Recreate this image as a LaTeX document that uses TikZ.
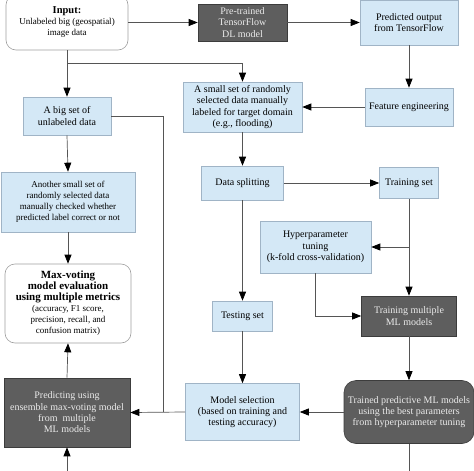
\documentclass[tikz,border=0pt]{standalone}
\usepackage{fontspec}
\setmainfont{Liberation Serif}
\usetikzlibrary{arrows.meta}

\definecolor{boxblue}{RGB}{212,232,246}
\definecolor{blueline}{RGB}{160,180,198}
\definecolor{boxdark}{RGB}{94,94,94}
\definecolor{darkline}{RGB}{60,60,60}
\definecolor{wireline}{RGB}{85,85,85}

\newcommand{\headline}[1]{{\fontsize{11}{13}\selectfont\bfseries #1}}

\tikzset{
  box/.style={draw, align=center, inner sep=0pt, font=\fontsize{10}{11.3}\selectfont},
  small/.style={font=\fontsize{9}{11}\selectfont},
  bluebox/.style={box, fill=boxblue, draw=blueline, line width=0.6pt},
  darkbox/.style={box, fill=boxdark, draw=darkline, text=white!92!black, line width=0.6pt},
  roundbox/.style={box, fill=white, draw=gray!75, rounded corners=10pt, line width=0.6pt},
  darkround/.style={darkbox, rounded corners=12pt},
  arr/.style={-{Triangle[length=9pt,width=7pt,color=black]}, draw=wireline, line width=0.7pt},
  wire/.style={draw=wireline, line width=0.7pt}
}

\begin{document}
\begin{tikzpicture}[x=1pt,y=-1pt]
\useasboundingbox (0,0) rectangle (474,471);
% left column
\node[roundbox, small, minimum width=122pt, minimum height=55pt] (input) at (67,22.5)
  {{\fontsize{10.5}{12}\selectfont\bfseries Input:}\\Unlabeled big (geospatial)\\image data};
\node[bluebox, minimum width=88pt, minimum height=38pt] (bigset) at (67,116)
  {A big set of\\unlabeled data};
\node[bluebox, small, minimum width=134pt, minimum height=60pt] (another) at (68,202)
  {Another small set of\\randomly selected data\\manually checked whether\\predicted label correct or not};
\node[roundbox, small, minimum width=126pt, minimum height=79pt] (maxvote) at (68,303.5)
  {\headline{Max-voting}\\\headline{model evaluation}\\\headline{using multiple metrics}\\(accuracy, F1 score,\\precision, recall, and\\confusion matrix)};
\node[darkbox, minimum width=126pt, minimum height=69pt] (predict) at (67,412.5)
  {Predicting using\\ensemble max-voting model\\from\ \ multiple\\ML models};
% top row and right side
\node[darkbox, minimum width=89pt, minimum height=37pt] (pretrained) at (242.5,22.5)
  {Pre-trained\\TensorFlow\\DL model};
\node[bluebox, minimum width=98pt, minimum height=45pt] (predicted) at (409,22.5)
  {Predicted output\\from TensorFlow};
\node[bluebox, minimum width=88pt, minimum height=38pt] (feature) at (409,107)
  {Feature engineering};
\node[bluebox, minimum width=119pt, minimum height=50pt] (smallset) at (242.5,107)
  {A small set of randomly\\selected data manually\\labeled for target domain\\(e.g., flooding)};
\node[bluebox, minimum width=82pt, minimum height=34pt] (datasplit) at (242.5,183)
  {Data splitting};
\node[bluebox, minimum width=59pt, minimum height=31pt] (trainset) at (409,183)
  {Training set};
\node[bluebox, minimum width=111pt, minimum height=52pt] (hyper) at (315.5,247)
  {Hyperparameter\\tuning\\(k-fold cross-validation)};
\node[darkbox, minimum width=95pt, minimum height=40pt] (trainmulti) at (409,316)
  {Training multiple\\ML models};
\node[bluebox, minimum width=60pt, minimum height=30pt] (testset) at (242.5,316)
  {Testing set};
\node[bluebox, minimum width=114pt, minimum height=57pt] (modelsel) at (242.5,412)
  {Model selection\\(based on training and\\testing accuracy)};
\node[darkround, minimum width=130pt, minimum height=63pt] (trained) at (409,412)
  {Trained predictive ML models\\using the best parameters\\from hyperparameter tuning};
% junctions
\coordinate (split1) at (67,63);
\coordinate (split2) at (409,247);
\coordinate (join) at (163,412);
% connectors
\draw[arr] (input.east) -- (pretrained.west);
\draw[arr] (pretrained.east) -- (predicted.west);
\draw[arr] (predicted.south) -- (feature.north);
\draw[arr] (feature.west) -- (smallset.east);
\draw[arr] (input.south) -- (bigset.north);
\draw[arr] (split1) -| (smallset.north);
\draw[wire] (bigset.east) -| (join);
\draw[arr] (bigset.south) -- (another.north);
\draw[arr] (another.south) -- (maxvote.north);
\draw[arr] (predict.north) -- (maxvote.south);
\draw[arr] (smallset.south) -- (datasplit.north);
\draw[arr] (datasplit.east) -- (trainset.west);
\draw[arr] (trainset.south) -- (trainmulti.north);
\draw[arr] (split2) -- (hyper.east);
\draw[arr] (hyper.south) |- (trainmulti.west);
\draw[arr] (datasplit.south) -- (testset.north);
\draw[arr] (testset.south) -- (modelsel.north);
\draw[arr] (trainmulti.south) -- (trained.north);
\draw[arr] (trained.west) -- (modelsel.east);
\draw[arr] (modelsel.west) -- (predict.east);
\draw[arr] (trained.south) -- ++(0,40) -| (predict.south);
\end{tikzpicture}
\end{document}
